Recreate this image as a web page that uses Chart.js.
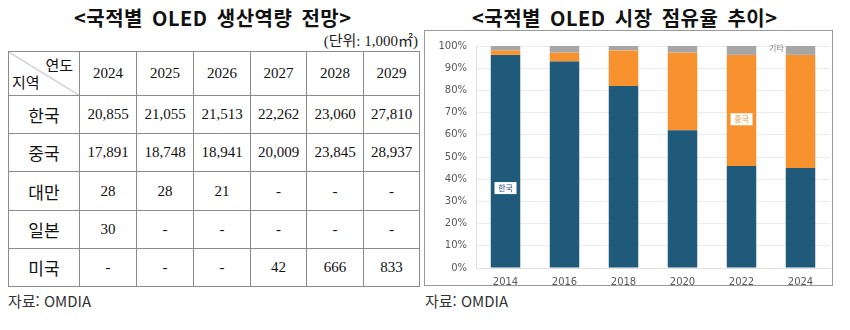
<!DOCTYPE html>
<html lang="ko">
<head>
<meta charset="utf-8">
<script src="https://cdn.jsdelivr.net/npm/chart.js@4.4.1/dist/chart.umd.min.js"></script>
<style>
    body { margin: 0; width: 850px; height: 330px; background: #fff; position: relative; overflow: hidden; font-family: "Noto Sans CJK KR", sans-serif; }
    .title { position: absolute; top: 3px; font-size: 20px; font-weight: bold; color: #111; white-space: nowrap; letter-spacing: 0.5px; word-spacing: 3px; }
    .unit { position: absolute; top: 29px; right: 432px; font-size: 15px; color: #222; font-family: "Liberation Serif", "Noto Sans CJK KR", serif; }
    .source { position: absolute; top: 290px; font-size: 15px; color: #333; }
    table.prod { position: absolute; left: 8px; top: 51px; border-collapse: collapse; table-layout: fixed; }
    table.prod td { border: 1px solid #8c8c8c; text-align: center; padding: 0; font-family: "Liberation Serif", serif; font-size: 15px; color: #111; }
    table.prod td.region { font-family: "Noto Sans CJK KR", sans-serif; font-size: 17px; }
    td.corner { position: relative; background: linear-gradient(to top right, transparent calc(50% - 0.6px), #8c8c8c 50%, transparent calc(50% + 0.6px)); }
    td.corner span { position: absolute; font-family: "Noto Sans CJK KR", sans-serif; font-size: 15px; }
    .frame { position: absolute; left: 424px; top: 30px; width: 407px; height: 254px; border: 1px solid #9a9a9a; }
    .frame canvas { position: absolute; left: 0; top: 0; }
</style>
</head>
<body>

<div class="title" style="left:74px;">&lt;국적별 OLED 생산역량 전망&gt;</div>
<div class="unit">(단위: 1,000㎡)</div>
<table class="prod" id="prodTable"></table>
<div class="source" style="left:8px;">자료: OMDIA</div>

<div class="title" style="left:472px;">&lt;국적별 OLED 시장 점유율 추이&gt;</div>
<div class="frame"><canvas id="shareChart" width="407" height="254"></canvas></div>
<div class="source" style="left:425px;">자료: OMDIA</div>

<script>
// --- production capacity table (unit: 1,000 m2) ---
var tableYears = ['2024', '2025', '2026', '2027', '2028', '2029'];
var tableRegions = ['한국', '중국', '대만', '일본', '미국'];
var capKorea  = ['20,855', '21,055', '21,513', '22,262', '23,060', '27,810'];
var capChina  = ['17,891', '18,748', '18,941', '20,009', '23,845', '28,937'];
var capTaiwan = ['28', '28', '21', '-', '-', '-'];
var capJapan  = ['30', '-', '-', '-', '-', '-'];
var capUSA    = ['-', '-', '-', '42', '666', '833'];

// --- market share chart (%) ---
var shareYears = ['2014', '2016', '2018', '2020', '2022', '2024'];
var shareKorea = [96, 93, 82, 62, 46, 45];
var shareChina = [2, 4, 16, 35, 50, 51];
var shareOther = [2, 3, 2, 3, 4, 4];
var shareTicks = [0, 10, 20, 30, 40, 50, 60, 70, 80, 90, 100];

// in-chart labels: text, category, value (%)
var markText  = ['한국', '중국', '기타'];
var markYear  = ['2014', '2022', '2024'];
var markValue = [36, 67, 99];

var colWidths = [71, 57, 57, 57, 56, 57, 56];
var rowHeights = [44, 38, 38, 39, 38, 38];

function buildTable() {
    var table = document.getElementById('prodTable');
    var rows = [capKorea, capChina, capTaiwan, capJapan, capUSA];
    var html = '<colgroup>' + colWidths.map(function (w) { return '<col style="width:' + w + 'px">'; }).join('') + '</colgroup>';
    html += '<tr style="height:' + rowHeights[0] + 'px"><td class="corner">' +
        '<span style="right:6px;top:2px;">연도</span><span style="left:3px;bottom:3px;">지역</span></td>';
    tableYears.forEach(function (y) { html += '<td>' + y + '</td>'; });
    html += '</tr>';
    rows.forEach(function (vals, i) {
        html += '<tr style="height:' + rowHeights[i + 1] + 'px"><td class="region">' + tableRegions[i] + '</td>';
        vals.forEach(function (v) { html += '<td>' + v + '</td>'; });
        html += '</tr>';
    });
    table.innerHTML = html;
}
buildTable();

var colors = { korea: '#1f5a7b', china: '#f7922f', other: '#a6a6a6' };

// small boxed labels drawn from the scales
var markLabels = {
    id: 'markLabels',
    afterDatasetsDraw: function (chart) {
        var ctx = chart.ctx;
        var xs = chart.scales.x, ys = chart.scales.y;
        ctx.save();
        ctx.font = '8px "Noto Sans CJK KR"';
        ctx.textBaseline = 'middle';
        markText.forEach(function (t, i) {
            var idx = shareYears.indexOf(markYear[i]);
            var x = xs.getPixelForValue(idx);
            var y = ys.getPixelForValue(markValue[i]);
            if (t === '기타') {
                var meta = chart.getDatasetMeta(2).data[idx];
                ctx.fillStyle = '#7f7f7f';
                ctx.textAlign = 'right';
                ctx.fillText(t, meta.x - meta.width / 2 - 2, y);
                return;
            }
            ctx.fillStyle = '#ffffff';
            ctx.fillRect(x - 11, y - 6, 22, 12);
            ctx.fillStyle = t === '한국' ? '#1f3f8f' : colors.china;
            ctx.textAlign = 'center';
            ctx.fillText(t, x, y);
        });
        ctx.restore();
    }
};

var ctx = document.getElementById('shareChart').getContext('2d');
new Chart(ctx, {
    type: 'bar',
    data: {
        labels: shareYears,
        datasets: [
            { label: '한국', data: shareKorea, backgroundColor: colors.korea },
            { label: '중국', data: shareChina, backgroundColor: colors.china },
            { label: '기타', data: shareOther, backgroundColor: colors.other }
        ]
    },
    options: {
        responsive: false,
        animation: false,
        layout: { padding: { top: 7, right: 2, left: 0, bottom: 0 } },
        plugins: { legend: { display: false }, tooltip: { enabled: false } },
        datasets: { bar: { barPercentage: 0.5, categoryPercentage: 1 } },
        scales: {
            x: {
                stacked: true,
                grid: { display: false, drawTicks: false },
                border: { color: '#e0e0e0' },
                ticks: { padding: 8, color: '#595959', font: { family: 'DejaVu Sans', size: 10 } },
                afterFit: function (s) { s.height = 17; }
            },
            y: {
                stacked: true,
                min: 0,
                max: 100,
                afterBuildTicks: function (s) { s.ticks = shareTicks.map(function (v) { return { value: v }; }); },
                grid: { color: '#ebebeb', drawTicks: false },
                border: { color: '#e0e0e0' },
                ticks: {
                    padding: 9,
                    color: '#595959',
                    font: { family: 'DejaVu Sans', size: 10 },
                    callback: function (v) { return v + '%'; }
                },
                afterFit: function (s) { s.width = 51; }
            }
        }
    },
    plugins: [markLabels]
});
</script>
</body>
</html>
